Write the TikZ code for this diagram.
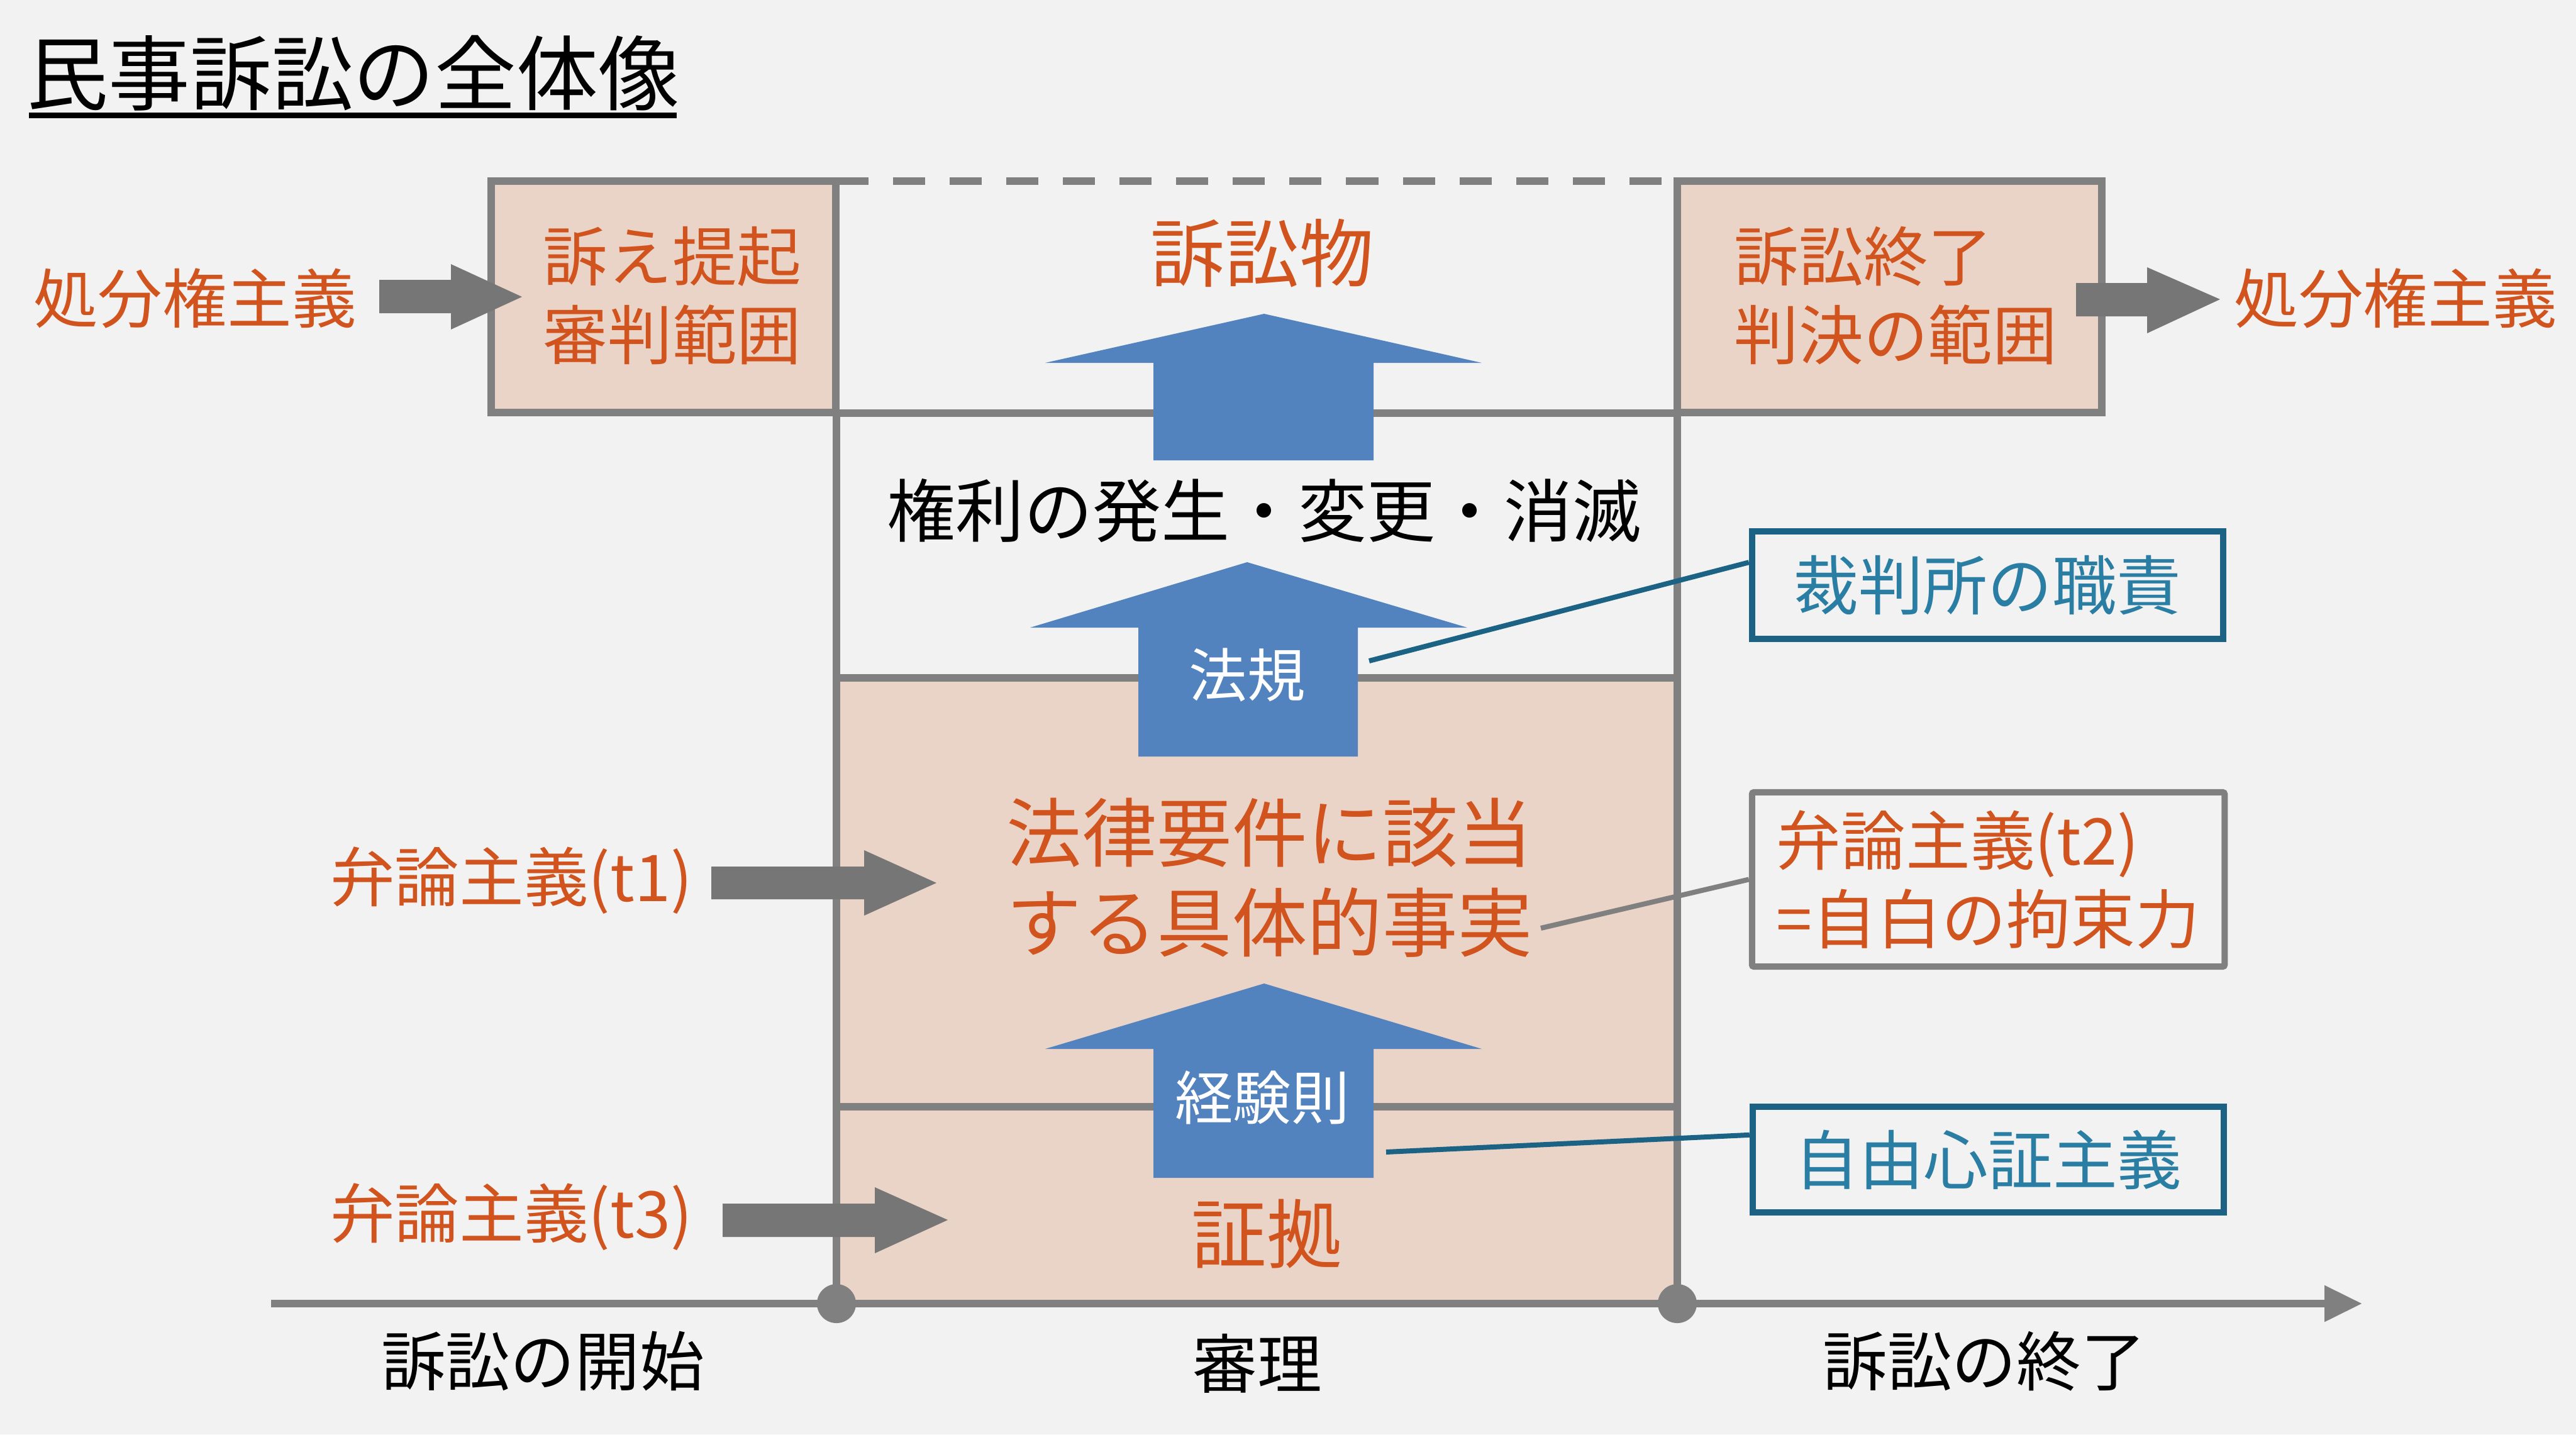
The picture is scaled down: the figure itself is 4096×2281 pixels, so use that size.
\documentclass[tikz,border=0pt]{standalone}
\usepackage{fontspec}
\setmainfont{Noto Sans CJK JP}
\usetikzlibrary{arrows.meta,calc}
\definecolor{bg}{HTML}{F2F2F2}
\definecolor{pinkfill}{HTML}{EAD3C7}
\definecolor{lineg}{HTML}{808080}
\definecolor{arrowg}{HTML}{767676}
\definecolor{blueA}{HTML}{5383BE}
\definecolor{orangeT}{HTML}{D1541F}
\definecolor{tealB}{HTML}{1B6284}
\definecolor{tealT}{HTML}{2B7EA3}
\tikzset{
  grayframe/.style={draw=lineg, line width=0.12cm},
  pinkbox/.style={grayframe, fill=pinkfill, inner sep=0pt},
  blockup/.style={fill=blueA},
  grayarrow/.style={fill=arrowg},
  otext/.style={text=orangeT, inner sep=0pt, font=\fontsize{29.2pt}{35.6pt}\selectfont},
  ktext/.style={text=black, inner sep=0pt, font=\fontsize{29.2pt}{35.6pt}\selectfont},
  wtext/.style={text=white, inner sep=0pt, font=\fontsize{26.3pt}{32pt}\selectfont},
  tealbox/.style={draw=tealB, line width=0.1cm, text=tealT, inner sep=0pt,
    font=\fontsize{29.2pt}{35.6pt}\selectfont, minimum width=7.49cm},
  graybox/.style={draw=lineg, line width=0.1cm, rounded corners=0.03cm, text=orangeT, inner sep=0pt,
    font=\fontsize{29.2pt}{35.6pt}\selectfont, minimum width=7.51cm, align=left},
  tealline/.style={draw=tealB, line width=0.08cm},
  grayline/.style={draw=lineg, line width=0.08cm},
}
\begin{document}
\begin{tikzpicture}[x=0.01cm,y=-0.01cm]
\fill[bg] (0,0) rectangle (4096,2281);
\useasboundingbox (0,0) rectangle (4096,2281);

% title
\node[inner sep=0pt, font=\fontsize{36.9pt}{40pt}\selectfont] (title) at (562,116) {民事訴訟の全体像};
\draw[line width=0.09cm] (46,183) -- (1076,183);

% middle column
\fill[pinkfill] (1330,1078) rectangle (2667,2073);
\draw[grayframe] (1330,657) rectangle (2667,1078);
\draw[grayframe] (1330,1078) rectangle (2667,2073);
\draw[grayframe] (1330,1760) -- (2667,1760);
\draw[grayframe, dash pattern=on 0.51cm off 0.39cm] (1330,288) -- (2667,288);

% top boxes
\node[pinkbox, minimum width=5.48cm, minimum height=3.68cm] (lbox) at (1055,472) {};
\node[pinkbox, minimum width=6.75cm, minimum height=3.68cm] (rbox) at (3004.5,472) {};

% time axis
\draw[grayframe, -{Triangle[length=0.6cm,width=0.55cm]}] (431,2073) -- (3756,2073);
\fill[lineg] (1330,2073) circle[radius=0.31cm];
\fill[lineg] (2667,2073) circle[radius=0.31cm];

% blue block arrows
\fill[blockup] (2010,499) -- (2356,577) -- (2184,577) -- (2184,732) -- (1834,732) -- (1834,577) -- (1662,577) -- cycle;
\fill[blockup] (1983,894) -- (2333,998) -- (2159,998) -- (2159,1203) -- (1810,1203) -- (1810,998) -- (1638,998) -- cycle;
\fill[blockup] (2010,1564) -- (2356,1668) -- (2184,1668) -- (2184,1873) -- (1834,1873) -- (1834,1668) -- (1662,1668) -- cycle;

% gray block arrows
\fill[grayarrow] (603,445) -- (717,445) -- (717,420) -- (830,472) -- (717,524) -- (717,498) -- (603,498) -- cycle;
\fill[grayarrow] (3301,450) -- (3414,450) -- (3414,425) -- (3530,476) -- (3414,530) -- (3414,503) -- (3301,503) -- cycle;
\fill[grayarrow] (1131,1378) -- (1374,1378) -- (1374,1352) -- (1489,1404) -- (1374,1456) -- (1374,1430) -- (1131,1430) -- cycle;
\fill[grayarrow] (1149,1914) -- (1391,1914) -- (1391,1888) -- (1507,1940) -- (1391,1993) -- (1391,1967) -- (1149,1967) -- cycle;

% texts
\node[otext] (shobunL) at (310,474) {処分権主義};
\node[otext, align=center] (teiki) at (1069,470) {訴え提起\\審判範囲};
\node[otext, font=\fontsize{33.6pt}{40pt}\selectfont] (soshobutsu) at (2007,403) {訴訟物};
\node[ktext, font=\fontsize{31pt}{36pt}\selectfont] (kenri) at (2010,812) {権利の発生・変更・消滅};
\node[wtext] (hoki) at (1983,1073) {法規};
\node[otext, align=center, font=\fontsize{34pt}{40.7pt}\selectfont] (jijitsu) at (2019,1396) {法律要件に該当\\する具体的事実};
\node[wtext] (keiken) at (2007,1745) {経験則};
\node[otext, font=\fontsize{34pt}{40pt}\selectfont] (shoko) at (2014,1962) {証拠};
\node[ktext] (shinri) at (1999,2168) {審理};
\node[ktext] (kaishi) at (863,2165) {訴訟の開始};
\node[ktext] (shuryo) at (3155,2165) {訴訟の終了};
\node[otext] (t1) at (813,1400) {弁論主義(t1)};
\node[otext] (t3) at (813,1935) {弁論主義(t3)};
\node[otext, align=left, anchor=west] (hanketsu) at (2757,470) {訴訟終了\\判決の範囲};
\node[otext] (shobunR) at (3809,474) {処分権主義};

% right annotation boxes
\node[tealbox, minimum height=1.71cm] (saiban) at (3160.5,930.5) {裁判所の職責};
\node[graybox, minimum height=2.77cm] (jihaku) at (3161.5,1398.5) {弁論主義(t2)\\=自白の拘束力};
\node[tealbox, minimum height=1.68cm] (jiyu) at (3161.5,1844) {自由心証主義};

% connectors
\coordinate (hokiR) at (2177,1051);
\coordinate (jijitsuR) at (2450,1476);
\coordinate (keikenR) at (2204,1832);
\draw[tealline] (hokiR) -- ($(saiban.north west)!0.3!(saiban.south west)$);
\draw[grayline] (jijitsuR) -- (jihaku.west);
\draw[tealline] (keikenR) -- ($(jiyu.north west)!0.28!(jiyu.south west)$);
\end{tikzpicture}
\end{document}
